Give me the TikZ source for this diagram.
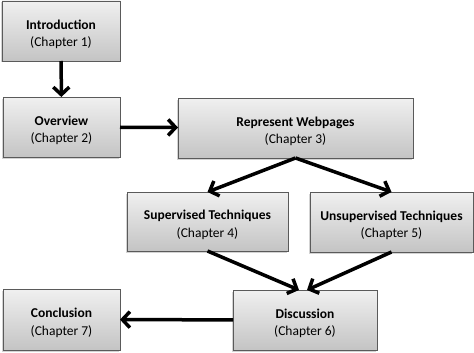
\documentclass[tikz,border=0pt]{standalone}
\usepackage{fontspec}
\setmainfont{Carlito}
\usetikzlibrary{arrows.meta,shadows}
\definecolor{boxtop}{RGB}{240,240,240}
\definecolor{boxbot}{RGB}{196,196,196}
\definecolor{boxline}{RGB}{90,90,90}
\newcommand{\chaptitle}[2]{\rule{0pt}{16pt}\textbf{#1}\\(Chapter #2)}
\tikzset{
  chap/.style={draw=boxline, line width=0.8pt, top color=boxtop, bottom color=boxbot,
    inner sep=0pt, outer sep=0pt, align=center, font=\fontsize{13.5}{17.5}\selectfont,
    drop shadow={shadow xshift=-1pt, shadow yshift=-1.5pt, opacity=0.35}},
  flow/.style={line width=3.5pt, -{Straight Barb[length=7.5pt,width=16pt]}},
}
\begin{document}
\begin{tikzpicture}[x=1pt,y=-1pt]
\useasboundingbox (0,0) rectangle (474,353);
\node[chap, minimum width=118pt, minimum height=60pt] (intro) at (61,31) {\chaptitle{Introduction}{1}};
\node[chap, minimum width=117pt, minimum height=60pt] (over) at (61.5,127) {\chaptitle{Overview}{2}};
\node[chap, minimum width=235pt, minimum height=60pt] (rep) at (295.5,128) {\chaptitle{Represent Webpages}{3}};
\node[chap, minimum width=161pt, minimum height=59pt] (sup) at (207.5,221.5) {\chaptitle{Supervised Techniques}{4}};
\node[chap, minimum width=163pt, minimum height=60pt] (unsup) at (391.5,222) {\chaptitle{Unsupervised Techniques}{5}};
\node[chap, minimum width=144pt, minimum height=60pt] (disc) at (305,320) {\chaptitle{Discussion}{6}};
\node[chap, minimum width=117pt, minimum height=61pt] (conc) at (61.5,319.5) {\chaptitle{Conclusion}{7}};
\draw[flow] (intro) -- (over);
\draw[flow] (over) -- (rep);
\draw[flow] (rep.south) -- (sup.north);
\draw[flow] (rep.south) -- (unsup.north);
\draw[flow] (sup.south) -- ([xshift=-6pt]disc.north);
\draw[flow] (unsup.south) -- ([xshift=2pt]disc.north);
\draw[flow] (disc) -- (conc);
\end{tikzpicture}
\end{document}
